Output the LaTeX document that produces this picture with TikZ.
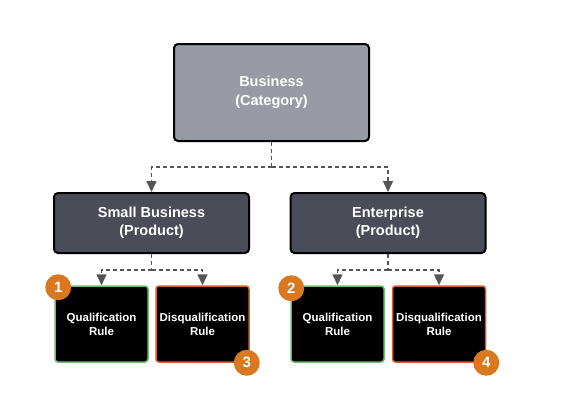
\documentclass[tikz,border=0pt]{standalone}
\usepackage{fontspec}
\setmainfont{Liberation Sans}
\usetikzlibrary{arrows.meta,calc}
\definecolor{catfill}{HTML}{989BA3}
\definecolor{prodfill}{HTML}{4A4D57}
\definecolor{qborder}{HTML}{6CBF6A}
\definecolor{dborder}{HTML}{D2602A}
\definecolor{badge}{HTML}{D9781E}
\definecolor{conncol}{HTML}{555555}
\tikzset{
  catbox/.style={draw=black, line width=2pt, rounded corners=4pt, fill=catfill,
    minimum width=195pt, minimum height=97pt, align=center, text=white,
    font=\bfseries\fontsize{14.5}{19}\selectfont},
  prodbox/.style={draw=black, line width=2pt, rounded corners=4pt, fill=prodfill,
    minimum width=195pt, minimum height=60pt, align=center, text=white,
    font=\bfseries\fontsize{14.5}{18}\selectfont},
  rulebox/.style={line width=1.5pt, rounded corners=3pt, fill=black,
    minimum width=93pt, minimum height=76pt, align=center, text=white,
    font=\bfseries\fontsize{11.5}{14}\selectfont},
  qbox/.style={rulebox, draw=qborder},
  dbox/.style={rulebox, draw=dborder},
  badgenode/.style={circle, fill=badge, minimum size=26pt, inner sep=0pt,
    text=white, font=\bfseries\fontsize{15}{15}\selectfont},
  conn/.style={draw=conncol, line width=1.5pt, dash pattern=on 4pt off 3pt,
    -{Triangle[length=11pt,width=10pt,fill=conncol]}},
  connplain/.style={draw=conncol, line width=1.5pt, dash pattern=on 4pt off 3pt}
}
\begin{document}
\begin{tikzpicture}[x=1pt,y=-1pt]
\useasboundingbox (0,0) rectangle (561,408);
\node[catbox] (cat) at (271.5,92.5) {Business\\(Category)};
\node[prodbox] (sb) at (151.5,223) {Small Business\\(Product)};
\node[prodbox] (ent) at (388,223) {Enterprise\\(Product)};
\node[qbox] (q1) at (101.5,324) {Qualification\\Rule};
\node[dbox] (d1) at (202.5,324) {Disqualification\\Rule};
\node[qbox] (q2) at (337.5,324) {Qualification\\Rule};
\node[dbox] (d2) at (439,324) {Disqualification\\Rule};
\coordinate (j0) at ($(cat.south)+(0,25)$);
\coordinate (j1) at ($(sb.south)+(0,16)$);
\coordinate (j2) at ($(ent.south)+(0,16)$);
\draw[connplain] (cat.south) -- (j0);
\draw[conn] (j0) -| (sb.north);
\draw[conn] (j0) -| (ent.north);
\draw[connplain] (sb.south) -- (j1);
\draw[conn] (j1) -| (q1.north);
\draw[conn] (j1) -| (d1.north);
\draw[connplain] (ent.south) -- (j2);
\draw[conn] (j2) -| (q2.north);
\draw[conn] (j2) -| (d2.north);
\node[badgenode] (b1) at (q1.north west) [xshift=4pt,yshift=-2pt] {1};
\node[badgenode] (b3) at (d1.south east) [xshift=-3pt] {3};
\node[badgenode] (b2) at (q2.north west) [xshift=1pt,yshift=-3pt] {2};
\node[badgenode] (b4) at (d2.south east) {4};
\end{tikzpicture}
\end{document}
